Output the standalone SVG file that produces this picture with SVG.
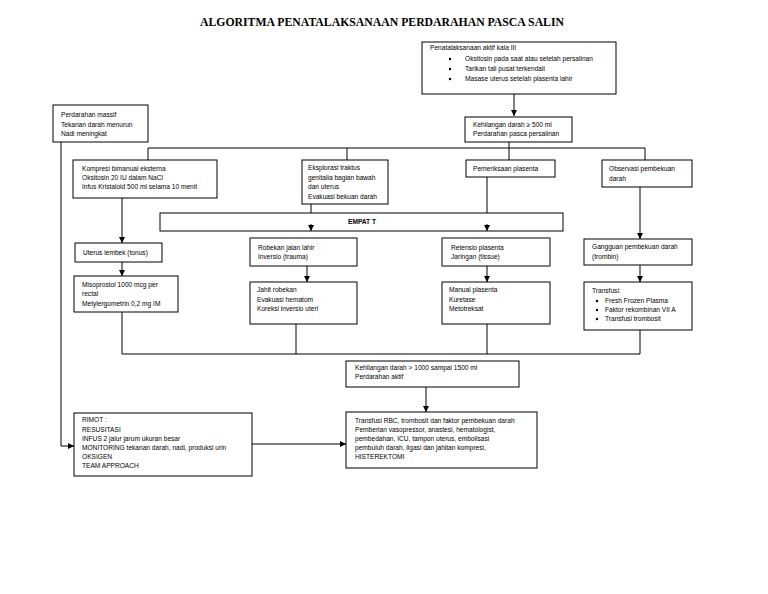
<svg xmlns="http://www.w3.org/2000/svg" width="768" height="594" viewBox="0 0 768 594">
<style>
.b{fill:#fff;stroke:#000;stroke-width:1}
.t{font-family:"Liberation Sans",Arial,sans-serif;font-size:6.6px;fill:#000}
.c{fill:none;stroke:#000;stroke-width:1}
.ttl{font-family:"Liberation Serif","Times New Roman",serif;font-size:12px;font-weight:bold;fill:#000}
</style>
<defs>
<marker id="ah" markerWidth="6" markerHeight="6" refX="6" refY="3" orient="auto" markerUnits="userSpaceOnUse">
<path d="M0,0 L6,3 L0,6 Z" fill="#000"/>
</marker>
</defs>
<rect width="768" height="594" fill="#fff"/>
<text class="ttl" x="382" y="26" text-anchor="middle" textLength="364" lengthAdjust="spacingAndGlyphs">ALGORITMA PENATALAKSANAAN PERDARAHAN PASCA SALIN</text>

<g id="n-kala3">
<rect class="b" x="422" y="42" width="194" height="52"/>
<text class="t" x="430" y="50">Penatalaksanaan aktif kala III</text>
<circle cx="450" cy="59" r="1.2"/><text class="t" x="465" y="61">Oksitosin pada saat atau setelah persalinan</text>
<circle cx="450" cy="69" r="1.2"/><text class="t" x="465" y="71">Tarikan tali pusat terkendali</text>
<circle cx="450" cy="79" r="1.2"/><text class="t" x="465" y="81">Masase uterus setelah plasenta lahir</text>
</g>

<g id="n-massif">
<rect class="b" x="53" y="105" width="95" height="37"/>
<text class="t" x="61" y="117">Perdarahan massif</text>
<text class="t" x="61" y="127">Tekanan darah menurun</text>
<text class="t" x="61" y="136">Nadi meningkat</text>
</g>

<g id="n-500">
<rect class="b" x="465" y="117" width="107" height="25"/>
<text class="t" x="473" y="127">Kehilangan darah ≥ 500 ml</text>
<text class="t" x="473" y="136">Perdarahan pasca persalinan</text>
</g>

<g id="n-kompresi">
<rect class="b" x="73" y="160" width="144" height="38"/>
<text class="t" x="82" y="171">Kompresi bimanual eksterna</text>
<text class="t" x="82" y="180">Oksitosin 20 IU dalam NaCl</text>
<text class="t" x="82" y="189">Infus Kristaloid 500 ml selama 10 menit</text>
</g>

<g id="n-eksplorasi">
<rect class="b" x="302" y="160" width="86" height="44"/>
<text class="t" x="308" y="170">Eksplorasi traktus</text>
<text class="t" x="308" y="180">genitalia bagian bawah</text>
<text class="t" x="308" y="189">dan uterus</text>
<text class="t" x="308" y="199">Evakuasi bekuan darah</text>
</g>

<g id="n-pemeriksaan">
<rect class="b" x="466" y="160" width="89" height="17"/>
<text class="t" x="473" y="171">Pemeriksaan plasenta</text>
</g>

<g id="n-observasi">
<rect class="b" x="602" y="160" width="90" height="27"/>
<text class="t" x="609" y="171">Observasi pembekuan</text>
<text class="t" x="609" y="181">darah</text>
</g>

<g id="n-empatt">
<rect class="b" x="160" y="213" width="403" height="18"/>
<text class="t" x="362" y="224" text-anchor="middle" font-weight="bold">EMPAT T</text>
</g>

<g id="n-uterus">
<rect class="b" x="75" y="243" width="87" height="19"/>
<text class="t" x="83" y="255">Uterus lembek (tonus)</text>
</g>

<g id="n-robekan">
<rect class="b" x="250" y="238" width="107" height="28"/>
<text class="t" x="258" y="250">Robekan jalan lahir</text>
<text class="t" x="258" y="259">Inversio (trauma)</text>
</g>

<g id="n-retensio">
<rect class="b" x="442" y="238" width="108" height="28"/>
<text class="t" x="451" y="250">Retensio plasenta</text>
<text class="t" x="451" y="259">Jaringan (tissue)</text>
</g>

<g id="n-gangguan">
<rect class="b" x="584" y="239" width="108" height="26"/>
<text class="t" x="592" y="249">Gangguan pembekuan darah</text>
<text class="t" x="592" y="259">(trombin)</text>
</g>

<g id="n-misoprostol">
<rect class="b" x="74" y="276" width="104" height="36"/>
<text class="t" x="82" y="287">Misoprostol 1000 mcg per</text>
<text class="t" x="82" y="296">rectal</text>
<text class="t" x="82" y="306">Metylergometrin 0,2 mg IM</text>
</g>

<g id="n-jahit">
<rect class="b" x="250" y="282" width="107" height="42"/>
<text class="t" x="257" y="292">Jahit robekan</text>
<text class="t" x="257" y="302">Evakuasi hematom</text>
<text class="t" x="257" y="311">Koreksi inversio uteri</text>
</g>

<g id="n-manual">
<rect class="b" x="442" y="282" width="108" height="42"/>
<text class="t" x="449" y="292">Manual plasenta</text>
<text class="t" x="449" y="302">Kuretase</text>
<text class="t" x="449" y="311">Metotreksat</text>
</g>

<g id="n-transfusi">
<rect class="b" x="584" y="282" width="108" height="48"/>
<text class="t" x="592" y="293">Transfusi:</text>
<circle cx="597" cy="301" r="1.2"/><text class="t" x="605" y="303">Fresh Frozen Plasma</text>
<circle cx="597" cy="310" r="1.2"/><text class="t" x="605" y="312">Faktor rekombinan VII A</text>
<circle cx="597" cy="319" r="1.2"/><text class="t" x="605" y="321">Transfusi trombosit</text>
</g>

<g id="n-1000">
<rect class="b" x="346" y="361" width="173" height="26"/>
<text class="t" x="355" y="370">Kehilangan darah &gt; 1000 sampai 1500 ml</text>
<text class="t" x="355" y="379">Perdarahan aktif</text>
</g>

<g id="n-rimot">
<rect class="b" x="74" y="413" width="178" height="63"/>
<text class="t" x="82" y="422">RIMOT :</text>
<text class="t" x="82" y="432">RESUSITASI</text>
<text class="t" x="82" y="441">INFUS 2 jalur jarum ukuran besar</text>
<text class="t" x="82" y="450">MONITORING tekanan darah, nadi, produksi urin</text>
<text class="t" x="82" y="459">OKSIGEN</text>
<text class="t" x="82" y="468">TEAM APPROACH</text>
</g>

<g id="n-rbc">
<rect class="b" x="346" y="412" width="191" height="56"/>
<text class="t" x="355" y="423">Transfusi RBC, trombosit dan faktor pembekuan darah</text>
<text class="t" x="355" y="432">Pemberian vasopressor, anastesi, hematologist,</text>
<text class="t" x="355" y="441">pembedahan, ICU, tampon uterus, embolisasi</text>
<text class="t" x="355" y="450">pembuluh darah, ligasi dan jahitan kompresi,</text>
<text class="t" x="355" y="459">HISTEREKTOMI</text>
</g>

<g id="connectors">
<path class="c" d="M514,94 V116" marker-end="url(#ah)"/>
<path class="c" d="M509,142 V160"/>
<path class="c" d="M148,148 H645"/>
<path class="c" d="M148,148 V160"/>
<path class="c" d="M347,148 V160"/>
<path class="c" d="M645,148 V160"/>
<path class="c" d="M122,198 V243" marker-end="url(#ah)"/>
<path class="c" d="M122,262 V276" marker-end="url(#ah)"/>
<path class="c" d="M311,204 V213"/>
<path class="c" d="M311,224 V231" marker-end="url(#ah)"/>
<path class="c" d="M487,177 V213"/>
<path class="c" d="M487,224 V231" marker-end="url(#ah)"/>
<path class="c" d="M307,266 V282" marker-end="url(#ah)"/>
<path class="c" d="M487,266 V282" marker-end="url(#ah)"/>
<path class="c" d="M640,187 V239" marker-end="url(#ah)"/>
<path class="c" d="M640,265 V282" marker-end="url(#ah)"/>
<path class="c" d="M122,312 V354 H640"/>
<path class="c" d="M296,324 V354"/>
<path class="c" d="M487,324 V354"/>
<path class="c" d="M640,330 V354"/>
<path class="c" d="M426,387 V412" marker-end="url(#ah)"/>
<path class="c" d="M61,142 V446 H74" marker-end="url(#ah)"/>
<path class="c" d="M252,444 H346" marker-end="url(#ah)"/>
</g>
</svg>
